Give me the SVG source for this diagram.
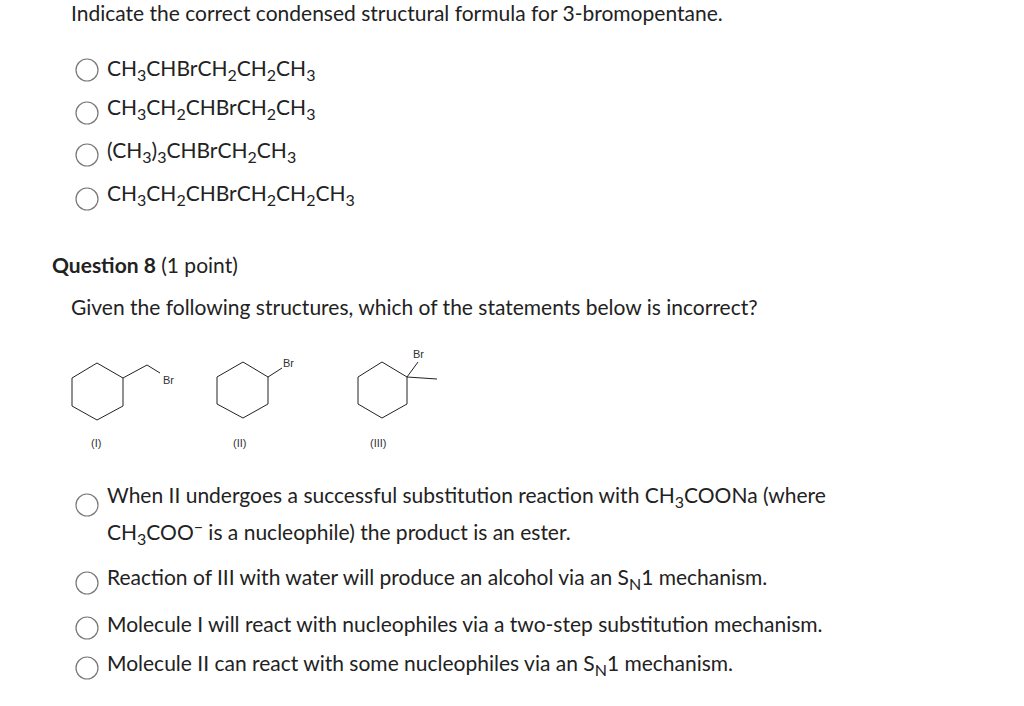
<svg xmlns="http://www.w3.org/2000/svg" width="1024" height="706" viewBox="0 0 1024 706">
<style>
.t{font-family:Lato,"Liberation Sans",sans-serif;font-size:21px;fill:#222}
.r{fill:#fff;stroke:#777;stroke-width:1.2}
.m{fill:none;stroke:#222;stroke-width:1}
.s{font-family:"Liberation Sans",Arial,sans-serif;font-size:11px;fill:#333}
</style>
<rect width="1024" height="706" fill="#fff"/>
<text class="t" x="71" y="21">Indicate the correct condensed structural formula for 3-bromopentane.</text>
<g id="opts1">
<circle class="r" cx="87" cy="70" r="11"/><text class="t" x="107" y="76">CH<tspan font-size="16" dy="5">3</tspan><tspan dy="-5">CHBrCH</tspan><tspan font-size="16" dy="5">2</tspan><tspan dy="-5">CH</tspan><tspan font-size="16" dy="5">2</tspan><tspan dy="-5">CH</tspan><tspan font-size="16" dy="5">3</tspan></text>
<circle class="r" cx="87" cy="113" r="11"/><text class="t" x="107" y="115">CH<tspan font-size="16" dy="5">3</tspan><tspan dy="-5">CH</tspan><tspan font-size="16" dy="5">2</tspan><tspan dy="-5">CHBrCH</tspan><tspan font-size="16" dy="5">2</tspan><tspan dy="-5">CH</tspan><tspan font-size="16" dy="5">3</tspan></text>
<circle class="r" cx="87" cy="155" r="11"/><text class="t" x="107" y="158">(CH<tspan font-size="16" dy="5">3</tspan><tspan dy="-5">)</tspan><tspan font-size="16" dy="5">3</tspan><tspan dy="-5">CHBrCH</tspan><tspan font-size="16" dy="5">2</tspan><tspan dy="-5">CH</tspan><tspan font-size="16" dy="5">3</tspan></text>
<circle class="r" cx="87" cy="199" r="11"/><text class="t" x="107" y="201">CH<tspan font-size="16" dy="5">3</tspan><tspan dy="-5">CH</tspan><tspan font-size="16" dy="5">2</tspan><tspan dy="-5">CHBrCH</tspan><tspan font-size="16" dy="5">2</tspan><tspan dy="-5">CH</tspan><tspan font-size="16" dy="5">2</tspan><tspan dy="-5">CH</tspan><tspan font-size="16" dy="5">3</tspan></text>
</g>
<text class="t" x="52" y="273"><tspan font-weight="bold">Question 8</tspan> (1 point)</text>
<text class="t" x="71" y="315">Given the following structures, which of the statements below is incorrect?</text>
<g id="mol1">
<polygon class="m" points="97,363 123,378 123,406 97,420 72,406 72,378"/>
<polyline class="m" points="123,378 147,365 160,373"/>
<text class="s" x="163" y="384">Br</text>
<text class="s" x="91" y="447">(I)</text>
</g>
<g id="mol2">
<polygon class="m" points="243,362 268,377 268,404 243,418 217,404 217,377"/>
<line class="m" x1="268" y1="377" x2="282" y2="368"/>
<text class="s" x="283" y="367">Br</text>
<text class="s" x="233" y="447">(II)</text>
</g>
<g id="mol3">
<polygon class="m" points="382,362 407,377 407,404 382,418 358,404 358,377"/>
<line class="m" x1="407" y1="377" x2="418" y2="362"/>
<line class="m" x1="407" y1="377" x2="437" y2="379"/>
<text class="s" x="413" y="358">Br</text>
<text class="s" x="370" y="447">(III)</text>
</g>
<g id="opts2">
<circle class="r" cx="87" cy="505" r="11"/>
<text class="t" x="107" y="503">When II undergoes a successful substitution reaction with CH<tspan font-size="16" dy="5">3</tspan><tspan dy="-5">COONa (where</tspan></text>
<text class="t" x="107" y="540">CH<tspan font-size="16" dy="5">3</tspan><tspan dy="-5">COO</tspan><tspan font-size="16" dy="-7">−</tspan><tspan dy="7"> is a nucleophile) the product is an ester.</tspan></text>
<circle class="r" cx="87" cy="583" r="11"/>
<text class="t" x="107" y="585">Reaction of III with water will produce an alcohol via an S<tspan font-size="16" dy="5">N</tspan><tspan dy="-5">1 mechanism.</tspan></text>
<circle class="r" cx="87" cy="628" r="11"/>
<text class="t" x="107" y="632">Molecule I will react with nucleophiles via a two-step substitution mechanism.</text>
<circle class="r" cx="87" cy="668" r="11"/>
<text class="t" x="107" y="671">Molecule II can react with some nucleophiles via an S<tspan font-size="16" dy="5">N</tspan><tspan dy="-5">1 mechanism.</tspan></text>
</g>
</svg>
